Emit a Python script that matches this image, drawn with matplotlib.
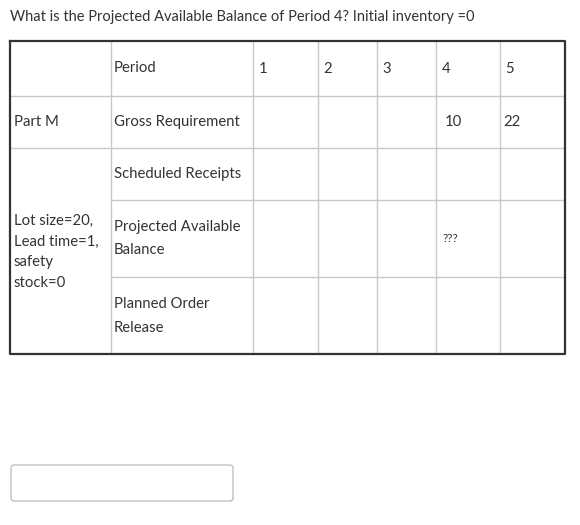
import matplotlib
matplotlib.use("Agg")
import matplotlib.pyplot as plt
from matplotlib.patches import FancyBboxPatch

title = "What is the Projected Available Balance of Period 4? Initial inventory =0"
periods = ["1", "2", "3", "4", "5"]
row_labels = [["Period"], ["Gross Requirement"], ["Scheduled Receipts"],
              ["Projected Available", "Balance"], ["Planned Order", "Release"]]
gross = ["", "", "", "10", "22"]
pab = ["", "", "", "???", ""]
left_labels = ["Part M", "Lot size=20,\nLead time=1,\nsafety\nstock=0"]

col_x = [10, 111, 253, 318, 377, 436, 500, 565]
row_y = [41, 96, 148, 200, 277, 354]
txt = "#333333"
grid = "#c8c8c8"
fam = ["Lato", "DejaVu Sans"]
fs = 10.7

fig = plt.figure(figsize=(5.8, 5.25), dpi=100)
ax = fig.add_axes([0, 0, 1, 1])
ax.set_xlim(0, 580); ax.set_ylim(525, 0); ax.axis("off")

ax.text(10, 17, title, fontsize=10.5, color=txt, va="center", family=fam)

for y in row_y[1:-1]:
    x0 = 10 if y in (96, 148) else 111
    ax.plot([x0, 565], [y, y], color=grid, lw=1)
for x in col_x[1:-1]:
    ax.plot([x, x], [41, 354], color=grid, lw=1)
ax.plot([10, 565, 565, 10, 10], [41, 41, 354, 354, 41], color="#333333", lw=1.6)

for i, lines in enumerate(row_labels):
    yc = (row_y[i] + row_y[i + 1]) / 2
    n = len(lines)
    for j, s in enumerate(lines):
        ax.text(114, yc + (j - (n - 1) / 2) * 24, s, fontsize=fs, color=txt,
                va="center", family=fam)
for k, p in enumerate(periods):
    xc = col_x[k + 2] + 10
    ax.text(xc, 69, p, fontsize=fs, color=txt, va="center", ha="center", family=fam)
    if gross[k]:
        ax.text(col_x[k + 2] + 17 - 5 * (k == 4), 122, gross[k], fontsize=fs, color=txt,
                va="center", ha="center", family=fam)
    if pab[k]:
        ax.text(col_x[k + 2] + 14, 239, pab[k], fontsize=8.5, color=txt,
                va="center", ha="center", family=fam)
ax.text(14, 122, left_labels[0], fontsize=fs, color=txt, va="center", family=fam)
ax.text(14, 252, left_labels[1], fontsize=fs, color=txt, va="center", family=fam,
        linespacing=1.6)

box = FancyBboxPatch((11, 465), 222, 36, boxstyle="round,pad=0,rounding_size=3",
                     fc="white", ec="#c0c0c0", lw=1)
ax.add_patch(box)

fig.savefig("out.png", dpi=100)
